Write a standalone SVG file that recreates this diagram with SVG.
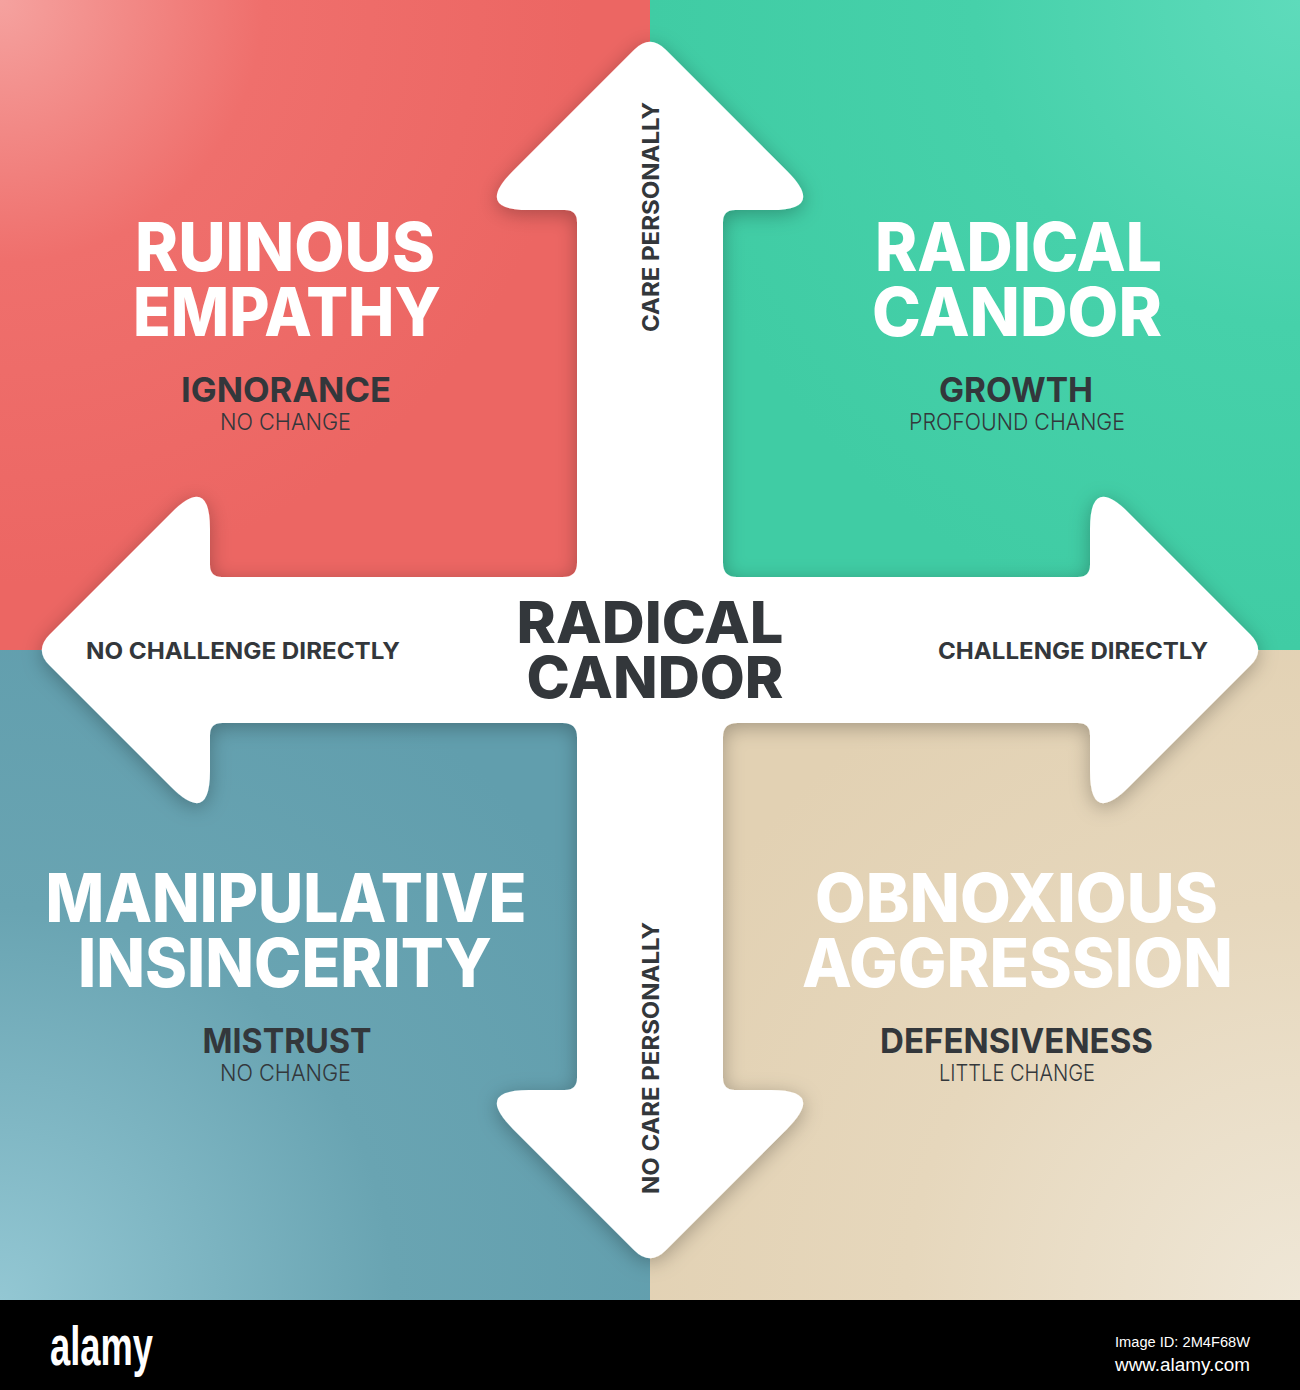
<svg xmlns="http://www.w3.org/2000/svg" width="1300" height="1390" viewBox="0 0 1300 1390">
  <style>
    .title { font-family: "Inter", "Liberation Sans", sans-serif; font-weight: 800; fill: #ffffff; text-anchor: middle; }
    .sub { font-family: "Inter", "Liberation Sans", sans-serif; font-weight: 700; fill: #33373b; text-anchor: middle; }
    .note { font-family: "Inter", "Liberation Sans", sans-serif; font-weight: 300; fill: #33373b; text-anchor: middle; }
    .axis { font-family: "Inter", "Liberation Sans", sans-serif; font-weight: 700; fill: #33373b; text-anchor: middle; }
    .center { font-family: "Inter", "Liberation Sans", sans-serif; font-weight: 800; fill: #33373b; text-anchor: middle; }
  </style>
  <defs>
    <radialGradient id="gRed" cx="0" cy="0" r="0.9">
      <stop offset="0" stop-color="#f5a29f"/>
      <stop offset="0.45" stop-color="#ef6f6c"/>
      <stop offset="1" stop-color="#ec6663"/>
    </radialGradient>
    <radialGradient id="gGreen" cx="1" cy="0" r="1.0">
      <stop offset="0" stop-color="#5edbbb"/>
      <stop offset="0.5" stop-color="#46d1aa"/>
      <stop offset="1" stop-color="#40cca4"/>
    </radialGradient>
    <radialGradient id="gTeal" cx="0" cy="1" r="1.1">
      <stop offset="0" stop-color="#93c7d3"/>
      <stop offset="0.55" stop-color="#69a4b2"/>
      <stop offset="1" stop-color="#619ead"/>
    </radialGradient>
    <radialGradient id="gBeige" cx="1" cy="1" r="1.1">
      <stop offset="0" stop-color="#efe7d7"/>
      <stop offset="0.55" stop-color="#e6d7bc"/>
      <stop offset="1" stop-color="#e2d1b3"/>
    </radialGradient>
    <filter id="shadow" x="-10%" y="-10%" width="120%" height="120%">
      <feDropShadow dx="0" dy="4" stdDeviation="10" flood-color="#000000" flood-opacity="0.28"/>
    </filter>
  </defs>

  <g id="quadrants">
    <rect id="q-tl" x="0" y="0" width="650" height="650" fill="url(#gRed)"/>
    <rect id="q-tr" x="650" y="0" width="650" height="650" fill="url(#gGreen)"/>
    <rect id="q-bl" x="0" y="650" width="650" height="650" fill="url(#gTeal)"/>
    <rect id="q-br" x="650" y="650" width="650" height="650" fill="url(#gBeige)"/>
  </g>

  <g id="connectors">
    <path id="cross" filter="url(#shadow)" fill="#ffffff" d="
      M634.4,49.6 Q650,34 665.6,49.6
      L787.1,171.1 Q826,210 771,210
      L735,210 Q723,210 723,222
      L723,563 Q723,577 737,577
      L1078,577 Q1090,577 1090,565
      L1090,529 Q1090,474 1128.9,512.9
      L1250.4,634.4 Q1266,650 1250.4,665.6
      L1128.9,787.1 Q1090,826 1090,771
      L1090,735 Q1090,723 1078,723
      L737,723 Q723,723 723,737
      L723,1078 Q723,1090 735,1090
      L771,1090 Q826,1090 787.1,1128.9
      L665.6,1250.4 Q650,1266 634.4,1250.4
      L512.9,1128.9 Q474,1090 529,1090
      L565,1090 Q577,1090 577,1078
      L577,737 Q577,723 563,723
      L222,723 Q210,723 210,735
      L210,771 Q210,826 171.1,787.1
      L49.6,665.6 Q34,650 49.6,634.4
      L171.1,512.9 Q210,474 210,529
      L210,565 Q210,577 222,577
      L563,577 Q577,577 577,563
      L577,222 Q577,210 565,210
      L529,210 Q474,210 512.9,171.1 Z"/>
    <text class="axis" font-size="23" x="243" y="659" textLength="314" lengthAdjust="spacingAndGlyphs">NO CHALLENGE DIRECTLY</text>
    <text class="axis" font-size="23" x="1073" y="659" textLength="270" lengthAdjust="spacingAndGlyphs">CHALLENGE DIRECTLY</text>
    <text class="axis" font-size="23" transform="translate(659,217) rotate(-90)" x="0" y="0" textLength="230" lengthAdjust="spacingAndGlyphs">CARE PERSONALLY</text>
    <text class="axis" font-size="23" transform="translate(659,1058) rotate(-90)" x="0" y="0" textLength="272" lengthAdjust="spacingAndGlyphs">NO CARE PERSONALLY</text>
  </g>

  <g id="node-center">
    <text class="center" font-size="58"><tspan x="650" y="643" textLength="267" lengthAdjust="spacingAndGlyphs">RADICAL</tspan><tspan x="655" y="698" textLength="257" lengthAdjust="spacingAndGlyphs">CANDOR</tspan></text>
  </g>

  <g id="node-ruinous-empathy">
    <text class="title" font-size="67"><tspan x="285" y="271" textLength="300" lengthAdjust="spacingAndGlyphs">RUINOUS</tspan><tspan x="287" y="336" textLength="308" lengthAdjust="spacingAndGlyphs">EMPATHY</tspan></text>
    <text class="sub" font-size="34" x="286" y="402" textLength="210" lengthAdjust="spacingAndGlyphs">IGNORANCE</text>
    <text class="note" font-size="23" x="285.5" y="430" textLength="131" lengthAdjust="spacingAndGlyphs">NO CHANGE</text>
  </g>

  <g id="node-radical-candor">
    <text class="title" font-size="67"><tspan x="1018.5" y="271" textLength="287" lengthAdjust="spacingAndGlyphs">RADICAL</tspan><tspan x="1017" y="336" textLength="290" lengthAdjust="spacingAndGlyphs">CANDOR</tspan></text>
    <text class="sub" font-size="34" x="1016" y="402" textLength="154" lengthAdjust="spacingAndGlyphs">GROWTH</text>
    <text class="note" font-size="23" x="1017" y="430" textLength="216" lengthAdjust="spacingAndGlyphs">PROFOUND CHANGE</text>
  </g>

  <g id="node-manipulative-insincerity">
    <text class="title" font-size="67"><tspan x="286" y="922" textLength="481" lengthAdjust="spacingAndGlyphs">MANIPULATIVE</tspan><tspan x="285" y="987" textLength="414" lengthAdjust="spacingAndGlyphs">INSINCERITY</tspan></text>
    <text class="sub" font-size="34" x="287" y="1053" textLength="169" lengthAdjust="spacingAndGlyphs">MISTRUST</text>
    <text class="note" font-size="23" x="285.5" y="1081" textLength="131" lengthAdjust="spacingAndGlyphs">NO CHANGE</text>
  </g>

  <g id="node-obnoxious-aggression">
    <text class="title" font-size="67"><tspan x="1016.5" y="922" textLength="403" lengthAdjust="spacingAndGlyphs">OBNOXIOUS</tspan><tspan x="1017.5" y="987" textLength="431" lengthAdjust="spacingAndGlyphs">AGGRESSION</tspan></text>
    <text class="sub" font-size="34" x="1016.5" y="1053" textLength="273" lengthAdjust="spacingAndGlyphs">DEFENSIVENESS</text>
    <text class="note" font-size="23" x="1017" y="1081" textLength="156" lengthAdjust="spacingAndGlyphs">LITTLE CHANGE</text>
  </g>

  <g id="footer">
    <rect x="0" y="1300" width="1300" height="90" fill="#000000"/>
    <text font-family="Liberation Sans Narrow, Liberation Sans, sans-serif" font-weight="700" font-size="56" fill="#ffffff" x="50" y="1365" textLength="103" lengthAdjust="spacingAndGlyphs">alamy</text>
    <text font-family="Liberation Sans Narrow, Liberation Sans, sans-serif" font-size="14" fill="#ffffff" x="1115" y="1347" textLength="135" lengthAdjust="spacingAndGlyphs">Image ID: 2M4F68W</text>
    <text font-family="Liberation Sans Narrow, Liberation Sans, sans-serif" font-size="18" fill="#ffffff" x="1115" y="1371" textLength="135" lengthAdjust="spacingAndGlyphs">www.alamy.com</text>
  </g>
</svg>
